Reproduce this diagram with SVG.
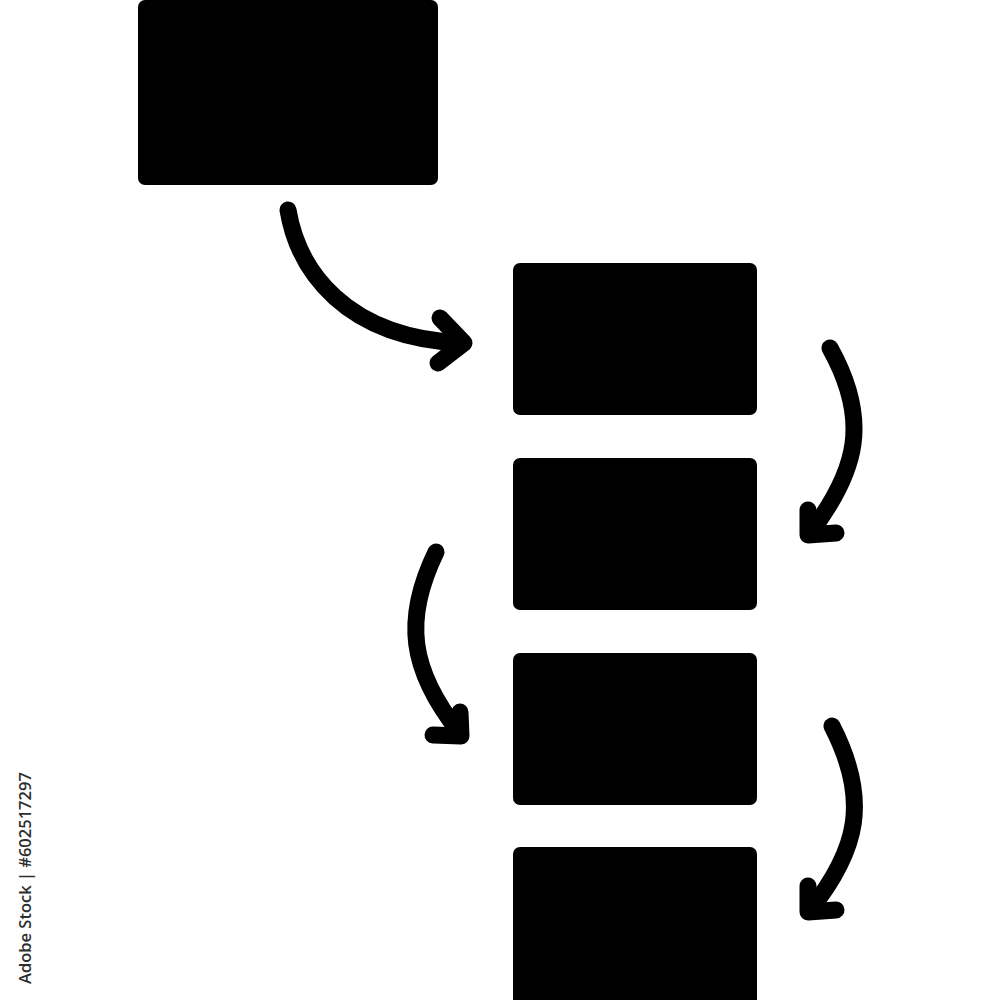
<svg xmlns="http://www.w3.org/2000/svg" width="1000" height="1000" viewBox="0 0 1000 1000">
<style>
.box{fill:#000}
.conn{fill:none;stroke:#000;stroke-width:17;stroke-linecap:round;stroke-linejoin:round}
.id{font-family:"Open Sans","Liberation Sans",sans-serif;font-size:16.5px;font-weight:600;fill:#2e2e2e}
</style>
<rect width="1000" height="1000" fill="#fff"/>
<g id="node1"><rect class="box" x="138" y="0" width="300" height="185" rx="7"/></g>
<g id="node2"><rect class="box" x="513" y="263" width="244" height="152" rx="7"/></g>
<g id="node3"><rect class="box" x="513" y="458" width="244" height="152" rx="7"/></g>
<g id="node4"><rect class="box" x="513" y="653" width="244" height="152" rx="7"/></g>
<g id="node5"><rect class="box" x="513" y="847" width="244" height="160" rx="7"/></g>
<g id="connectors">
<path class="conn" d="M288,210 C298,270 345,338 462,343"/>
<path class="conn" d="M440,318 L464,343 L438,363"/>
<path class="conn" d="M830,348 C870,420 858,470 810,533"/>
<path class="conn" d="M808,510 L808,535 L836,533"/>
<path class="conn" d="M436,552 C403,620 410,670 459,732"/>
<path class="conn" d="M460,712 L461,736 L433,735"/>
<path class="conn" d="M832,726 C870,800 858,850 810,910"/>
<path class="conn" d="M808,886 L808,912 L836,910"/>
</g>
<text class="id" transform="translate(31,984) rotate(-90)">Adobe Stock | #602517297</text>
</svg>
